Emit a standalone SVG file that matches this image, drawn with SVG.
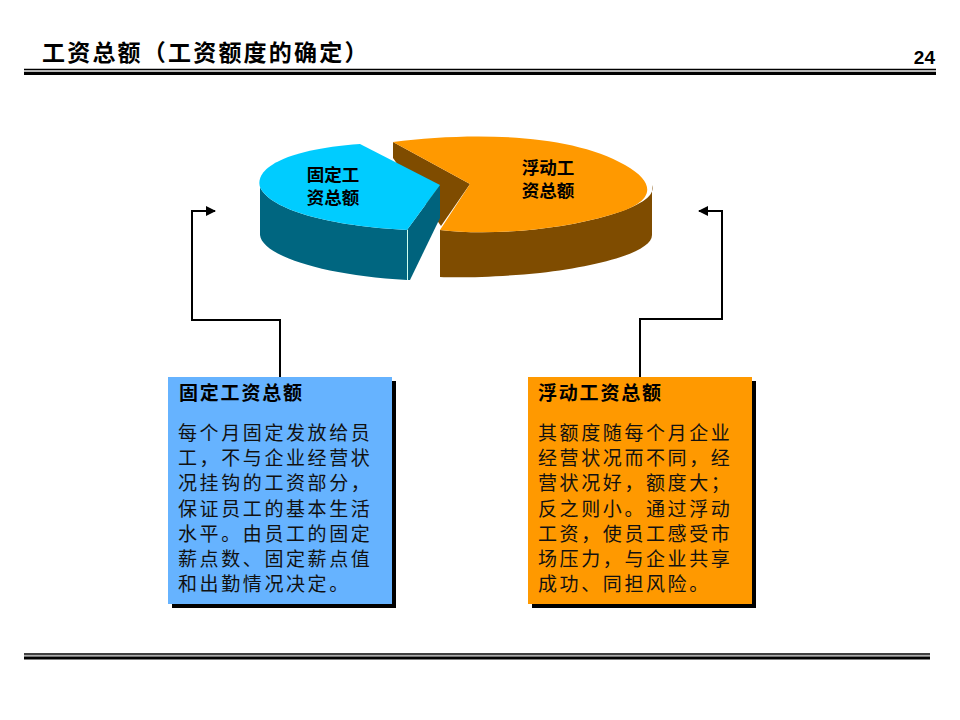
<svg xmlns="http://www.w3.org/2000/svg" width="960" height="720" viewBox="0 0 960 720">
<style>
.cn{font-family:"Liberation Sans","Noto Sans CJK SC",sans-serif;fill:#000}
.ttl{font-size:23px;font-weight:bold;letter-spacing:2.2px}
.pg{font-family:"Liberation Sans",Arial,sans-serif;font-size:19px;font-weight:bold}
.lbl{font-size:17.5px;font-weight:bold}
.bh{font-size:19px;font-weight:bold;letter-spacing:1.8px}
.bt{font-size:19px;letter-spacing:2.6px;fill:#111}
.conn{fill:none;stroke:#000;stroke-width:2}
</style>
<defs>
<marker id="ah" viewBox="0 0 10 10" refX="9" refY="5" markerWidth="5" markerHeight="5" orient="auto" markerUnits="strokeWidth">
<path d="M0,0 L10,5 L0,10 Z" fill="#000"/>
</marker>
</defs>
<rect width="960" height="720" fill="#fff"/>
<g id="header">
<text class="cn ttl" x="42" y="61">工资总额（工资额度的确定）</text>
<text class="pg" x="935" y="64" text-anchor="end">24</text>
<line x1="24" y1="69.5" x2="936" y2="69.5" stroke="#000" stroke-width="1.5"/>
<line x1="24" y1="71.2" x2="936" y2="71.2" stroke="#999" stroke-width="1"/>
<line x1="24" y1="73.5" x2="936" y2="73.5" stroke="#000" stroke-width="3"/>
</g>
<g id="footer">
<line x1="24" y1="654" x2="930" y2="654" stroke="#000" stroke-width="1.5"/>
<line x1="24" y1="655.7" x2="930" y2="655.7" stroke="#999" stroke-width="1"/>
<line x1="24" y1="658" x2="930" y2="658" stroke="#000" stroke-width="3"/>
</g>
<g id="pie-floating">
<path d="M393,142 L470,184 L441,226 L393,158 Z" fill="#7F4C00"/>
<path d="M440,230 C490,236 560,230 610,215 C645,204 655,195 652,185 L652,235 C652,252 600,266 540,273 C500,277 460,278 440,277 Z" fill="#7F4C00"/>
<path d="M393,142 C470,132 570,133 625,165 C662,186 650,205 610,215 C560,230 490,236 440,230 L470,184 Z" fill="#FF9900"/>
<text class="cn lbl" x="548" y="174" text-anchor="middle">浮动工</text>
<text class="cn lbl" x="548" y="197" text-anchor="middle">资总额</text>
</g>
<g id="pie-fixed">
<path d="M260,187 L260,235 C262,255 320,275 407,280 L407,230 C330,226 270,210 260,187 Z" fill="#006680"/>
<path d="M407,230 L440,185 L440,218 L410,280 L407,280 Z" fill="#00637d"/>
<line x1="407.5" y1="230" x2="407.5" y2="280" stroke="#cfe" stroke-width="1"/>
<path d="M360,144 L440,185 L407,230 C330,226 270,210 260,187 C255,170 280,150 360,144 Z" fill="#00CCFF"/>
<text class="cn lbl" x="333" y="181" text-anchor="middle">固定工</text>
<text class="cn lbl" x="333" y="204" text-anchor="middle">资总额</text>
</g>
<g id="connectors">
<path class="conn" d="M280,377 L280,320 L192,320 L192,211 L215,211" marker-end="url(#ah)"/>
<path class="conn" d="M640,377 L640,319 L722,319 L722,211 L699,211" marker-end="url(#ah)"/>
</g>
<g id="box-fixed">
<rect x="172" y="381" width="224" height="227" fill="#000"/>
<rect x="168" y="377" width="224" height="227" fill="#66B3FF"/>
<text class="cn bh" x="179" y="400">固定工资总额</text>
<text class="cn bt" x="178" y="440">每个月固定发放给员</text>
<text class="cn bt" x="178" y="465">工，不与企业经营状</text>
<text class="cn bt" x="178" y="490">况挂钩的工资部分，</text>
<text class="cn bt" x="178" y="516">保证员工的基本生活</text>
<text class="cn bt" x="178" y="541">水平。由员工的固定</text>
<text class="cn bt" x="178" y="566">薪点数、固定薪点值</text>
<text class="cn bt" x="178" y="591">和出勤情况决定。</text>
</g>
<g id="box-floating">
<rect x="532" y="381" width="224" height="227" fill="#000"/>
<rect x="528" y="377" width="224" height="227" fill="#FF9900"/>
<text class="cn bh" x="538" y="400">浮动工资总额</text>
<text class="cn bt" x="538" y="440">其额度随每个月企业</text>
<text class="cn bt" x="538" y="465">经营状况而不同，经</text>
<text class="cn bt" x="538" y="490">营状况好，额度大；</text>
<text class="cn bt" x="538" y="516">反之则小。通过浮动</text>
<text class="cn bt" x="538" y="541">工资，使员工感受市</text>
<text class="cn bt" x="538" y="566">场压力，与企业共享</text>
<text class="cn bt" x="538" y="591">成功、同担风险。</text>
</g>
</svg>
